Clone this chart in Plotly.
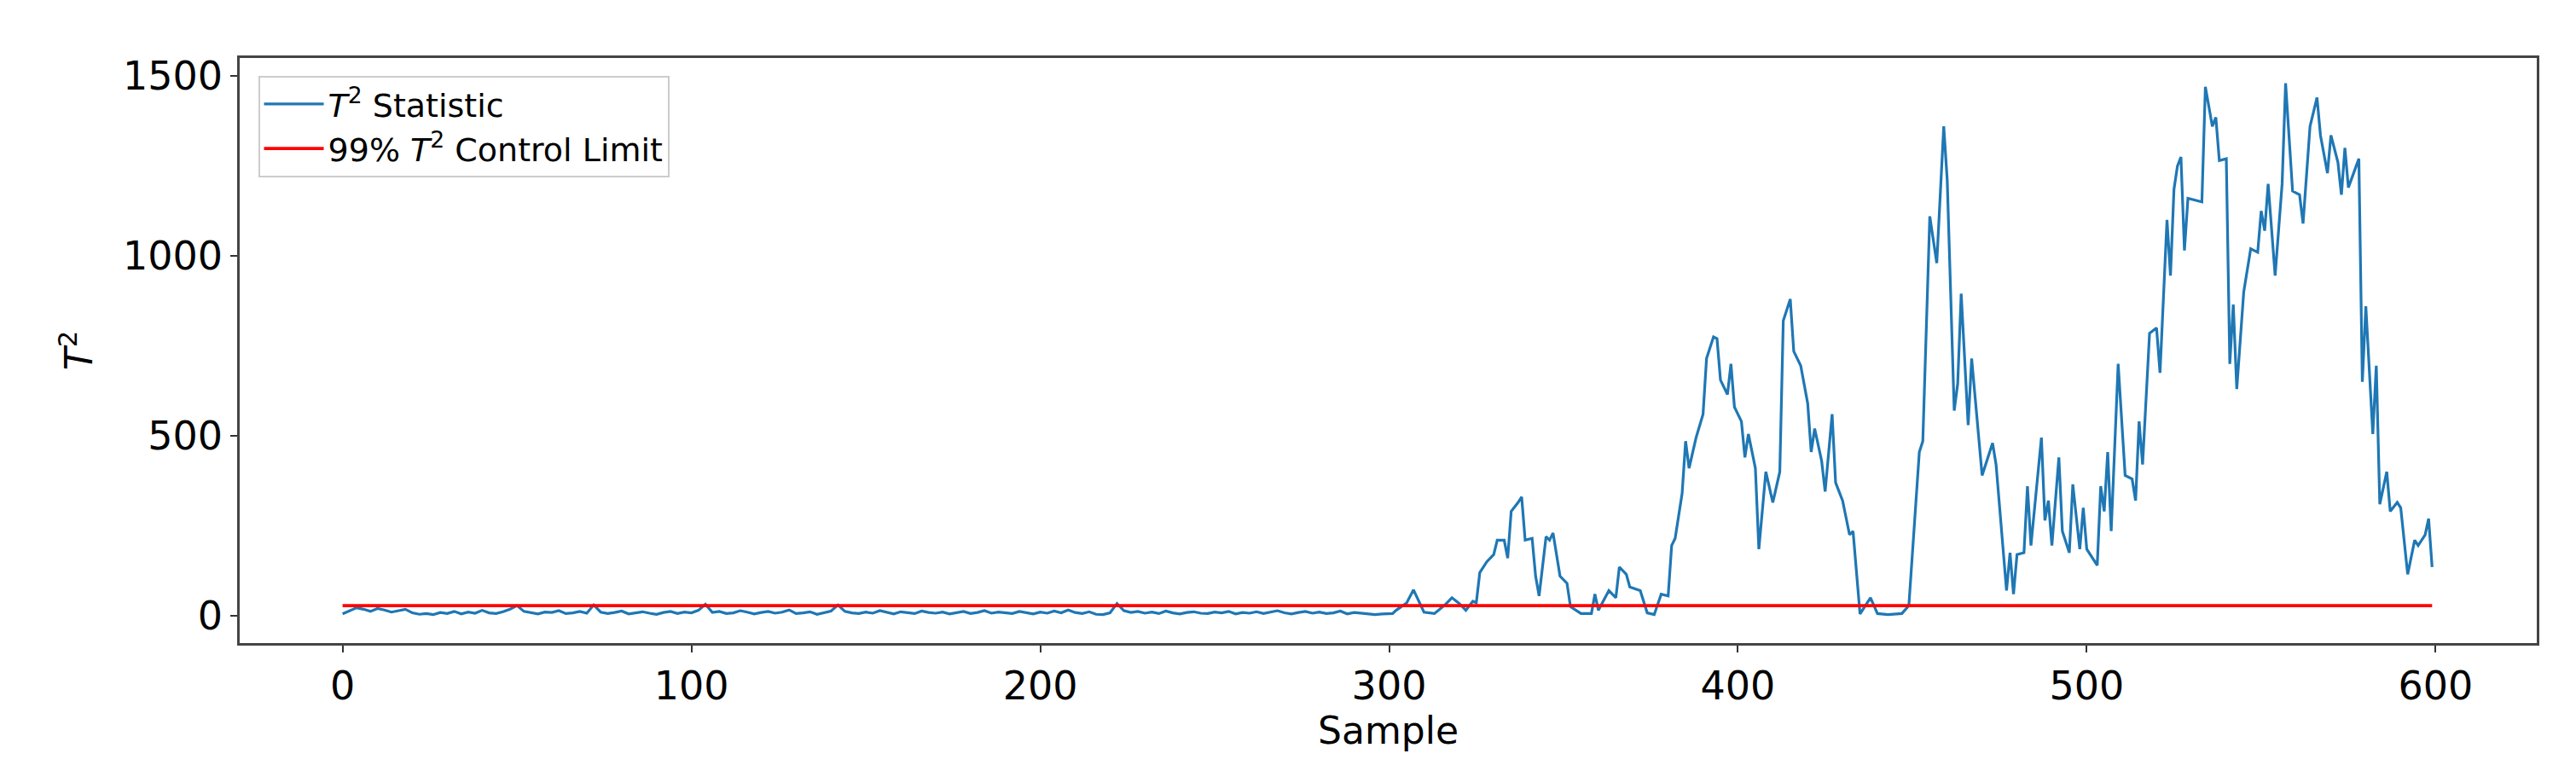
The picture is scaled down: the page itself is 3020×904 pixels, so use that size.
import plotly.graph_objects as go

# In-control section: samples 0..296 (every 2nd sample)
x_low = list(range(0, 298, 2))
y_low = [5, 14, 22, 18, 12, 20, 16, 10, 14, 18, 8, 4, 6, 3, 9, 6, 12, 5, 10, 7,
         15, 8, 6, 11, 18, 28, 12, 8, 5, 10, 9, 14, 6, 8, 12, 7, 30, 10, 6, 9,
         13, 5, 8, 11, 7, 4, 9, 12, 6, 10, 8, 15, 32, 9, 12, 6, 8, 14, 10, 5,
         9, 12, 7, 10, 16, 6, 8, 11, 4, 9, 13, 30, 12, 8, 6, 10, 7, 14, 9, 5,
         11, 8, 6, 13, 9, 7, 10, 5, 8, 12, 6, 9, 14, 7, 10, 8, 6, 12, 9, 5,
         10, 7, 13, 8, 16, 9, 6, 11, 4, 3, 8, 34, 14, 9, 12, 7, 10, 6, 13, 8,
         5, 9, 11, 7, 6, 10, 8, 12, 5, 9, 7, 11, 6, 10, 14, 8, 5, 9, 12, 7,
         10, 6, 8, 13, 5, 9, 7, 4, 3]

# Out-of-control section
x_high = [298, 301, 302, 305, 307, 310, 313, 316, 318, 320, 322, 324, 325, 326,
          328, 330, 331, 333, 334, 335, 337, 338, 339, 341, 342, 343, 345, 346,
          347, 349, 351, 352, 355, 358, 359, 360, 363, 365, 366, 368, 369, 372,
          374, 376, 378, 380, 381, 382, 384, 385, 386, 388, 390, 391, 393, 394,
          395, 397, 398, 399, 401, 402, 403, 405, 406, 408, 410, 412, 413, 415,
          416, 418, 420, 421, 422, 424, 425, 427, 428, 430, 432, 433, 435, 438,
          440, 443, 447, 449, 452, 453, 455, 456, 457, 459, 460, 462, 463, 464,
          466, 467, 469, 470, 473, 474, 477, 478, 479, 480, 482, 483, 484, 487,
          488, 489, 490, 492, 493, 495, 496, 498, 499, 500, 503, 504, 505, 506,
          507, 509, 511, 513, 514, 515, 516, 518, 520, 521, 523, 524, 525, 526,
          527, 528, 529, 533, 534, 536, 537, 538, 540, 541, 542, 543, 545, 547,
          549, 550, 551, 552, 554, 556, 557, 559, 561, 562, 564, 566, 567, 569,
          570, 572, 573, 574, 575, 578, 579, 580, 582, 583, 584, 586, 587, 589,
          590, 592, 594, 595, 597, 598, 599]
y_high = [5, 6, 15, 35, 72, 10, 6, 30, 50, 35, 15, 40, 36, 120,
          150, 170, 210, 210, 160, 290, 315, 330, 210, 215, 110, 55, 220, 210,
          230, 110, 90, 25, 6, 6, 60, 15, 70, 50, 135, 115, 80, 70,
          8, 3, 60, 55, 195, 215, 340, 485, 410, 495, 560, 715, 775, 770,
          655, 615, 700, 580, 540, 440, 505, 410, 185, 400, 315, 400, 820, 880,
          735, 695, 590, 455, 520, 430, 345, 560, 370, 320, 225, 235, 5, 50,
          6, 3, 6, 28, 455, 485, 1110, 1050, 980, 1360, 1210, 570, 645, 895,
          530, 715, 500, 390, 480, 420, 70, 175, 60, 170, 175, 360, 195, 495,
          265, 320, 195, 440, 235, 175, 365, 185, 300, 185, 140, 360, 290, 455,
          235, 700, 390, 380, 320, 540, 420, 785, 800, 675, 1100, 945, 1185, 1250,
          1275, 1015, 1160, 1150, 1470, 1360, 1385, 1265, 1270, 700, 865, 630, 900, 1020,
          1010, 1125, 1070, 1200, 945, 1200, 1480, 1180, 1170, 1090, 1360, 1440, 1335, 1230,
          1335, 1260, 1170, 1300, 1190, 1270, 650, 860, 505, 695, 310, 400, 290, 315,
          300, 115, 210, 195, 225, 270, 135]

x_all = x_low + x_high
y_all = y_low + y_high

limit_value = 28
x_limit = [0, 599]
y_limit = [limit_value, limit_value]

fig = go.Figure()
fig.add_trace(go.Scatter(x=x_all, y=y_all, mode="lines",
                         line=dict(color="#1f77b4", width=3.2),
                         name="<i>T</i><sup>2</sup> Statistic"))
fig.add_trace(go.Scatter(x=x_limit, y=y_limit, mode="lines",
                         line=dict(color="red", width=3.8),
                         name="99% <i>T</i><sup>2</sup> Control Limit"))

axis_common = dict(showgrid=False, zeroline=False, showline=True, mirror=True,
                   linecolor="#444", linewidth=2.5, ticks="outside", ticklen=8,
                   tickwidth=2, tickcolor="#333",
                   tickfont=dict(family="DejaVu Sans", size=46, color="black"))

fig.update_layout(
    width=3020, height=904,
    paper_bgcolor="white", plot_bgcolor="white",
    margin=dict(l=273, r=54, t=60, b=158),
    font=dict(family="DejaVu Sans", color="black"),
    xaxis=dict(range=[-29.5, 629], tickvals=[0, 100, 200, 300, 400, 500, 600],
               title=dict(text="Sample", font=dict(size=44), standoff=8),
               **axis_common),
    yaxis=dict(range=[-76, 1550], tickvals=[0, 500, 1000, 1500],
               title=dict(text="<i>T</i><sup>2</sup>", font=dict(size=44), standoff=22),
               **axis_common),
    legend=dict(x=0.008, y=0.97, xanchor="left", yanchor="top",
                bgcolor="rgba(255,255,255,0.9)", bordercolor="#ccc", borderwidth=2,
                font=dict(family="DejaVu Sans", size=38), itemwidth=70),
    showlegend=True,
)

fig.write_html("out.html")
